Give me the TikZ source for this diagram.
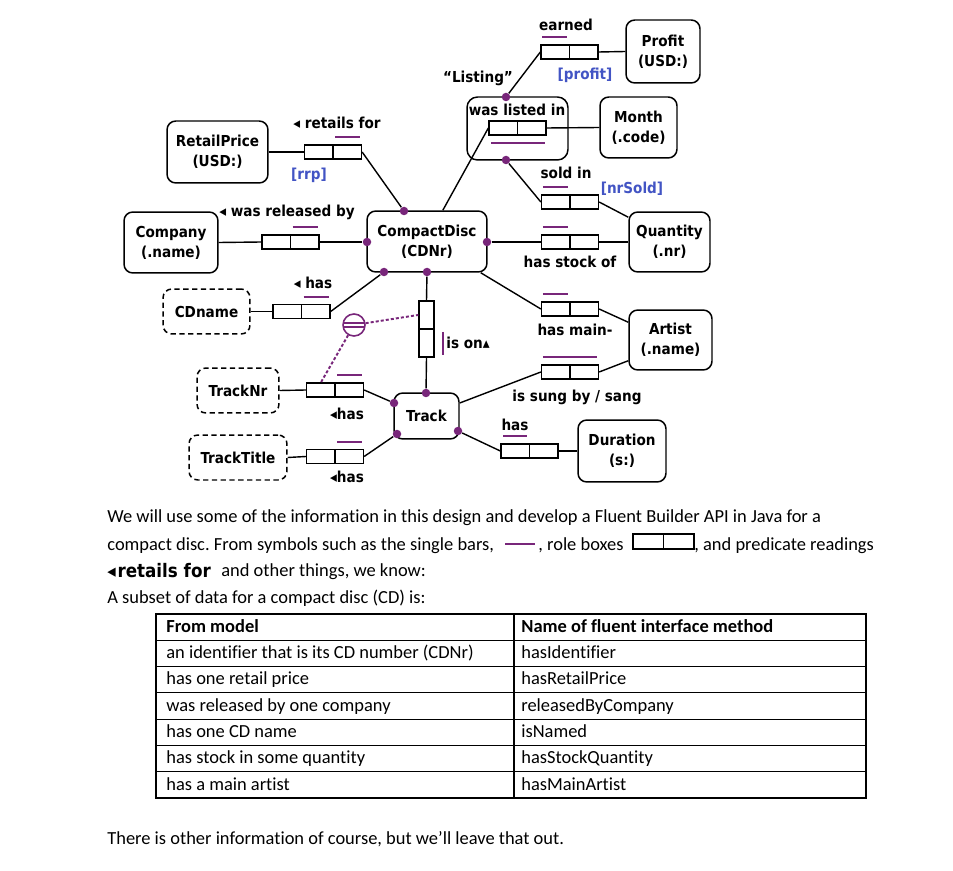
\documentclass[tikz,border=0pt]{standalone}
\usepackage{fontspec}
\setmainfont{Carlito}[Ligatures={NoCommon}]
\newfontfamily\ormfont{DejaVu Sans Condensed}
\usetikzlibrary{positioning}
\definecolor{ormpurple}{RGB}{120,38,122}
\definecolor{ormblue}{RGB}{66,84,196}
\frenchspacing

\begin{document}
\begin{tikzpicture}[x=0.02cm,y=-0.02cm,
  ent/.style={draw=black,line width=0.85pt,rounded corners=5pt,align=center,inner sep=0pt,font=\ormfont\bfseries\fontsize{8.6}{11.3}\selectfont},
  valent/.style={ent,dash pattern=on 3pt off 2pt},
  rbox/.style={draw=black,line width=0.75pt,minimum width=1.14cm,minimum height=0.28cm,inner sep=0pt,
    path picture={\draw[line width=0.75pt] (path picture bounding box.north) -- (path picture bounding box.south);}},
  vbox/.style={draw=black,line width=0.75pt,minimum width=0.3cm,minimum height=1.12cm,inner sep=0pt,
    path picture={\draw[line width=0.75pt] (path picture bounding box.west) -- (path picture bounding box.east);}},
  dot/.style={circle,fill=ormpurple,inner sep=0pt,minimum size=0.17cm},
  lbl/.style={inner sep=0pt,font=\ormfont\bfseries\fontsize{8.6}{11.3}\selectfont},
  conn/.style={line width=0.8pt},
  ubar/.style={draw=ormpurple,line width=1.1pt},
  eqline/.style={draw=ormpurple,line width=1.1pt,dash pattern=on 1.7pt off 1.2pt},
  body/.style={inner sep=0pt,anchor=base west,font=\fontsize{10.5}{12}\selectfont},
  tline/.style={line width=0.6pt}]

      \fill[white] (0,0) rectangle (953,871);
      \useasboundingbox (0,0) rectangle (953,871);

      \node[ent,minimum width=1.48cm,minimum height=1.26cm] (profit) at (663,51.5){Profit\\(USD:)};
      \node[ent,minimum width=1.54cm,minimum height=1.22cm] (month) at (638.5,127.5){Month\\(.code)};
      \node[ent,rounded corners=6pt,minimum width=2.02cm,minimum height=1.26cm] (listing) at (517.5,128.5){};
      \node[ent,minimum width=1.62cm,minimum height=1.2cm] (quantity) at (669.5,242){Quantity\\(.nr)};
      \node[ent,minimum width=2.4cm,minimum height=1.22cm] (cd) at (427,241.5){CompactDisc\\(CDNr)};
      \node[ent,minimum width=1.66cm,minimum height=1.2cm] (artist) at (670.5,340){Artist\\(.name)};
      \node[ent,minimum width=1.76cm,minimum height=1.24cm] (duration) at (622,451){Duration\\(s:)};
      \node[ent,minimum width=1.3cm,minimum height=0.92cm] (track) at (426.5,416){Track};
      \node[ent,minimum width=2.02cm,minimum height=1.24cm] (retailprice) at (217.5,152){RetailPrice\\(USD:)};
      \node[ent,minimum width=1.88cm,minimum height=1.22cm] (company) at (171,242.5){Company\\(.name)};
      \node[valent,minimum width=1.74cm,minimum height=0.9cm] (cdname) at (206.5,311.5){CDname};
      \node[valent,minimum width=1.64cm,minimum height=0.9cm] (tracknr) at (238,390.5){TrackNr};
      \node[valent,minimum width=1.96cm,minimum height=0.9cm] (tracktitle) at (238,457.5){TrackTitle};

      \node[rbox] (earned) at (569.5,52){};
      \node[rbox] (listedin) at (517.5,128){};
      \node[rbox] (soldin) at (570,202){};
      \node[rbox] (stock) at (570,242){};
      \node[rbox] (mainartist) at (570,309){};
      \node[rbox] (sungby) at (570,372){};
      \node[rbox] (durrole) at (529.5,451){};
      \node[rbox] (retails) at (333,152){};
      \node[rbox] (released) at (290.5,242){};
      \node[rbox] (cdnamehas) at (301.5,311.5){};
      \node[rbox] (tracknrhas) at (335,390){};
      \node[rbox] (tracktitlehas) at (335,456.5){};
      \node[vbox] (ison) at (426.5,329){};

      \node[circle,draw=ormpurple,line width=0.9pt,minimum size=0.44cm,inner sep=0pt,
        path picture={\draw[ormpurple,line width=0.8pt] ([yshift=1.1pt]path picture bounding box.west) -- ([yshift=1.1pt]path picture bounding box.east);
                      \draw[ormpurple,line width=0.8pt] ([yshift=-1.1pt]path picture bounding box.west) -- ([yshift=-1.1pt]path picture bounding box.east);}] (eq) at (354,325){};

      \node[dot] (listtop) at (506,97){};
      \node[dot] (listbot) at (506,160){};
      \node[dot] (cdtop) at (404,211){};
      \node[dot] (cdleft) at (367,242){};
      \node[dot] (cdright) at (487,242){};
      \node[dot] (cdbl) at (384,272){};
      \node[dot] (cdbot) at (427,272){};
      \node[dot] (trtop) at (426,393){};
      \node[dot] (trleft) at (394,403){};
      \node[dot] (trbl) at (397,434){};
      \node[dot] (trright) at (458,431){};

      \node[lbl] (earnedlbl) at (566,25){earned};
      \node[lbl,text=ormblue] (profitrole) at (585,75){[profit]};
      \node[lbl] (listinglbl) at (478,78){“Listing”};
      \node[lbl] (listedlbl) at (517,110){was listed in};
      \node[lbl] (soldlbl) at (566,173){sold in};
      \node[lbl,text=ormblue] (nrsoldrole) at (632,189){[nrSold]};
      \node[lbl] (stocklbl) at (570,262){has stock of};
      \node[lbl] (mainlbl) at (575,330){has main-};
      \node[lbl] (sunglbl) at (577,397){is sung by / sang};
      \node[lbl] (durlbl) at (515,425){has};
      \node[lbl] (retailslbl) at (337,123){◂ retails for};
      \node[lbl,text=ormblue] (rrprole) at (309,175){[rrp]};
      \node[lbl] (releasedlbl) at (287,212){◂ was released by};
      \node[lbl] (cdnamelbl) at (313,283){◂ has};
      \node[lbl] (tracknrlbl) at (347,414){◂has};
      \node[lbl] (tracktitlelbl) at (347,477){◂has};
      \node[lbl,anchor=west] (isonlbl) at (446,343){is on▴};

      \draw[ubar] ([xshift=1.2pt,yshift=4pt]earned.north west) -- ([xshift=-1.2pt,yshift=4pt]earned.north);
      \draw[ubar] ([xshift=1.7pt,yshift=-4pt]listedin.south west) -- ([xshift=-1.2pt,yshift=-4pt]listedin.south east);
      \draw[ubar] ([xshift=1.2pt,yshift=4pt]soldin.north west) -- ([xshift=-1.2pt,yshift=4pt]soldin.north);
      \draw[ubar] ([xshift=1.2pt,yshift=4pt]stock.north west) -- ([xshift=-1.2pt,yshift=4pt]stock.north);
      \draw[ubar] ([xshift=1.2pt,yshift=4pt]mainartist.north west) -- ([xshift=-1.2pt,yshift=4pt]mainartist.north);
      \draw[ubar] ([xshift=1.2pt,yshift=4pt]sungby.north west) -- ([xshift=-1.2pt,yshift=4pt]sungby.north east);
      \draw[ubar] ([xshift=1.7pt,yshift=4pt]durrole.north west) -- ([xshift=-1.2pt,yshift=4pt]durrole.north);
      \draw[ubar] ([xshift=1.2pt,yshift=4pt]retails.north) -- ([xshift=-1.2pt,yshift=4pt]retails.north east);
      \draw[ubar] ([xshift=1.2pt,yshift=4pt]released.north) -- ([xshift=-1.2pt,yshift=4pt]released.north east);
      \draw[ubar] ([xshift=1.2pt,yshift=4pt]cdnamehas.north) -- ([xshift=-1.2pt,yshift=4pt]cdnamehas.north east);
      \draw[ubar] ([xshift=1.2pt,yshift=4pt]tracknrhas.north) -- ([xshift=-1.2pt,yshift=4pt]tracknrhas.north east);
      \draw[ubar] ([xshift=1.2pt,yshift=4pt]tracktitlehas.north) -- ([xshift=-1.2pt,yshift=4pt]tracktitlehas.north east);
      \draw[ubar] ([xshift=4.5pt,yshift=-1.7pt]ison.east) -- ([xshift=4.5pt,yshift=-14.7pt]ison.east);

      \draw[conn] (listtop) -- (earned.west);
      \draw[conn] (earned.east) -- (profit.west);
      \draw[conn] (listedin.east) -- (month.west);
      \draw[conn] (listedin.west) -- ([xshift=9pt]cd.north);
      \draw[conn] (listbot) -- (soldin.west);
      \draw[conn] (soldin.east) -- ([yshift=-3.4pt]quantity.north west);
      \draw[conn] (cdright) -- (stock.west);
      \draw[conn] (stock.east) -- (quantity.west);
      \draw[conn] ([xshift=-4pt]cd.south east) -- (mainartist.west);
      \draw[conn] (mainartist.east) -- ([yshift=-7.4pt]artist.north west);
      \draw[conn] (sungby.east) -- ([yshift=5.7pt]artist.south west);
      \draw[conn] ([yshift=7.4pt]track.east) -- (sungby.west);
      \draw[conn] (trright) -- (durrole.west);
      \draw[conn] (durrole.east) -- (duration.west);
      \draw[conn] (retailprice.east) -- (retails.west);
      \draw[conn] (retails.east) -- (cdtop);
      \draw[conn] (company.east) -- (released.west);
      \draw[conn] (released.east) -- (cdleft);
      \draw[conn] (cdname.east) -- (cdnamehas.west);
      \draw[conn] (cdnamehas.east) -- (cdbl);
      \draw[conn] (cdbot) -- (ison.north);
      \draw[conn] (ison.south) -- (trtop);
      \draw[conn] (tracknr.east) -- (tracknrhas.west);
      \draw[conn] (tracknrhas.east) -- (trleft);
      \draw[conn] (tracktitle.east) -- (tracktitlehas.west);
      \draw[conn] (tracktitlehas.east) -- (trbl);
      \draw[eqline] (eq) -- ([yshift=8pt]ison.west);
      \draw[eqline] (eq) -- ([xshift=-8pt]tracknrhas.north);

      \node[body] (para1) at (107,522){We will use some of the information in this design and develop a Fluent Builder API in Java for a};
      \node[body] (para2a) at (107,550){compact disc. From symbols such as the single bars,};
      \draw[ubar] (505,544) -- (535,544);
      \node[body] (para2b) at (538,550){, role boxes};
      \node[rbox,minimum width=1.22cm,minimum height=0.3cm] (legendbox) at (663.5,541.5){};
      \node[body] (para2c) at (694,550){, and predicate readings};
      \node[body,font=\ormfont\bfseries\fontsize{10.6}{12}\selectfont] (para3a) at (107,577){◂\kern1pt retails for};
      \node[body] (para3b) at (221,576){and other things, we know:};
      \node[body] (para4) at (107,603){A subset of data for a compact disc (CD) is:};

      \draw[tline] (156,614) rectangle (866,798);
      \draw[tline] (514,614) -- (514,798);
      \foreach \y in {640.3,666.6,692.9,719.2,745.5,771.8} \draw[tline] (156,\y) -- (866,\y);

      \node[body,font=\bfseries\fontsize{10.5}{12}\selectfont] (hd1) at (166,632){From model};
      \node[body,font=\bfseries\fontsize{10.5}{12}\selectfont] (hd2) at (521,632){Name of fluent interface method};
      \node[body] (r1a) at (166,658.5){an identifier that is its CD number (CDNr)};
      \node[body] (r1b) at (521,658.5){hasIdentifier};
      \node[body] (r2a) at (166,684.8){has one retail price};
      \node[body] (r2b) at (521,684.8){hasRetailPrice};
      \node[body] (r3a) at (166,711){was released by one company};
      \node[body] (r3b) at (521,711){releasedByCompany};
      \node[body] (r4a) at (166,737.4){has one CD name};
      \node[body] (r4b) at (521,737.4){isNamed};
      \node[body] (r5a) at (166,763.7){has stock in some quantity};
      \node[body] (r5b) at (521,763.7){hasStockQuantity};
      \node[body] (r6a) at (166,790){has a main artist};
      \node[body] (r6b) at (521,790){hasMainArtist};

      \node[body] (lastline) at (107,844){There is other information of course, but we’ll leave that out.};
    \end{tikzpicture}
\end{document}
